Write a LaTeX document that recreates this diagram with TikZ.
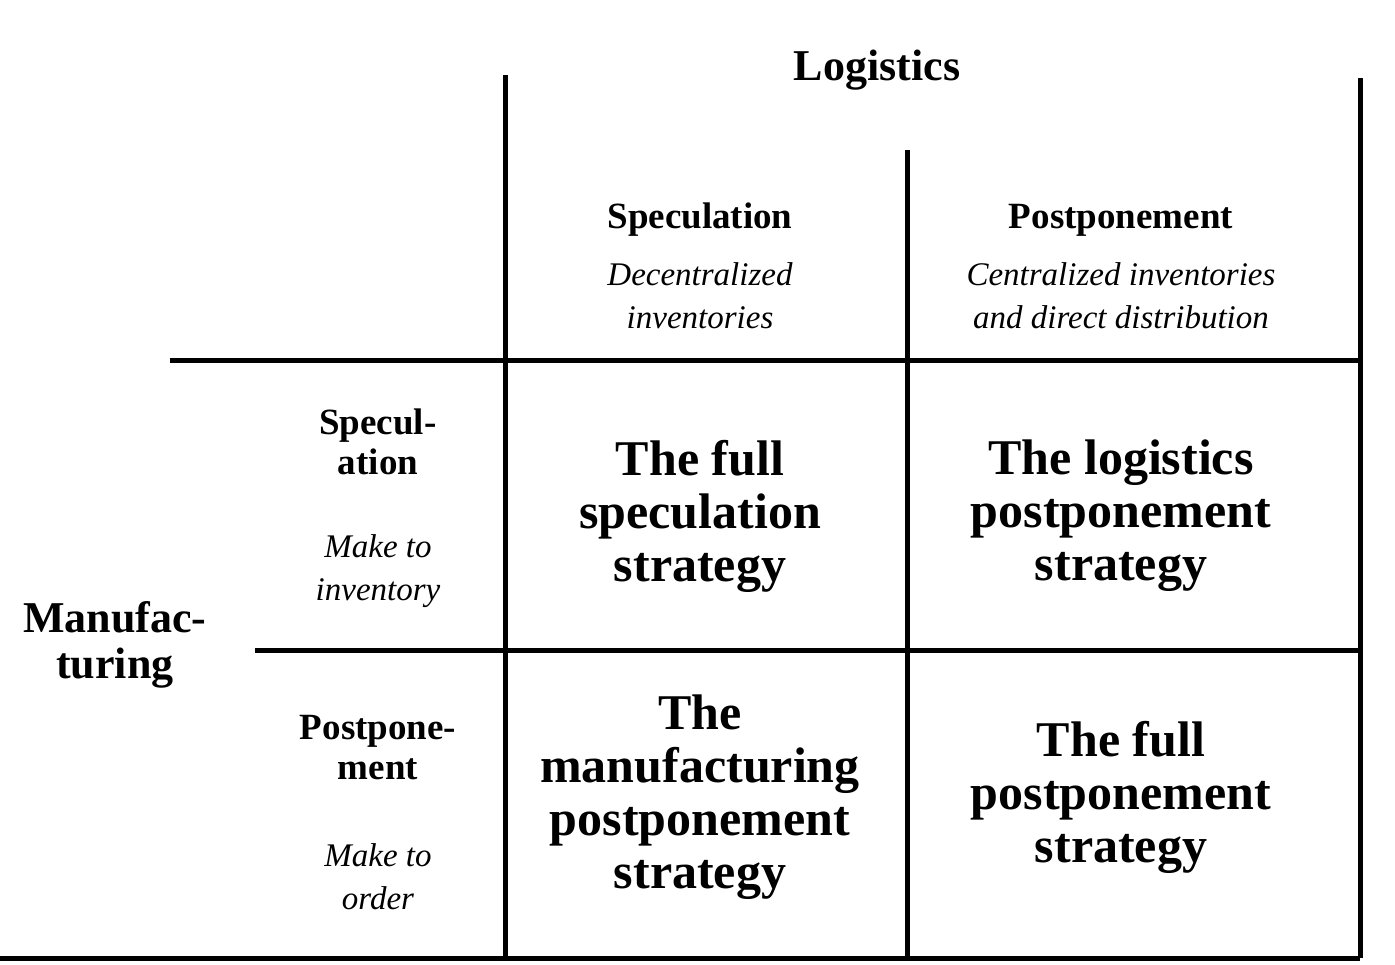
\documentclass[tikz,border=0pt]{standalone}
\usepackage{fontspec}
\setmainfont{Liberation Serif}
\begin{document}
\begin{tikzpicture}[x=1pt,y=-1pt,
  rule/.style={line width=5pt},
  axis/.style={font=\fontsize{44}{46}\selectfont\bfseries,align=center},
  head/.style={font=\fontsize{37}{40}\selectfont\bfseries,align=center},
  sub/.style={font=\fontsize{33}{43}\selectfont\itshape,align=center},
  cell/.style={font=\fontsize{50}{53}\selectfont\bfseries,align=center}]
\useasboundingbox (0,0) rectangle (1395,964);
\coordinate (v1t) at (505,75); \coordinate (v1b) at (505,958);
\coordinate (v2t) at (907,150); \coordinate (v2b) at (907,958);
\coordinate (v3t) at (1360,78); \coordinate (v3b) at (1360,958);
\coordinate (h1l) at (170,360); \coordinate (h1r) at (1360,360);
\coordinate (h2l) at (255,650); \coordinate (h2r) at (1360,650);
\coordinate (h3l) at (0,958); \coordinate (h3r) at (1360,958);
\draw[rule] (v1t)--(v1b); \draw[rule] (v2t)--(v2b); \draw[rule] (v3t)--(v3b);
\draw[rule] (h1l)--(h1r); \draw[rule] (h2l)--(h2r); \draw[rule] (h3l)--(h3r);
\node[axis] (log) at (877,70) {Logistics};
\node[head] (hs) at (700,220) {Speculation};
\node[sub] (hss) at (700,296) {Decentralized\\inventories};
\node[head] (hp) at (1121,220) {Postponement};
\node[sub] (hps) at (1121,296) {Centralized inventories\\and direct distribution};
\node[axis] (man) at (115,645) {Manufac-\\turing};
\node[head] (rs) at (378,442) {Specul-\\ation};
\node[sub] (rss) at (378,571) {Make to\\inventory};
\node[head] (rp) at (378,748) {Postpone-\\ment};
\node[sub] (rps) at (378,877) {Make to\\order};
\node[cell] (c11) at (700,516) {The full\\speculation\\strategy};
\node[cell] (c12) at (1121,516) {The logistics\\postponement\\strategy};
\node[cell] (c21) at (700,797) {The\\manufacturing\\postponement\\strategy};
\node[cell] (c22) at (1121,797) {The full\\postponement\\strategy};
\end{tikzpicture}
\end{document}
